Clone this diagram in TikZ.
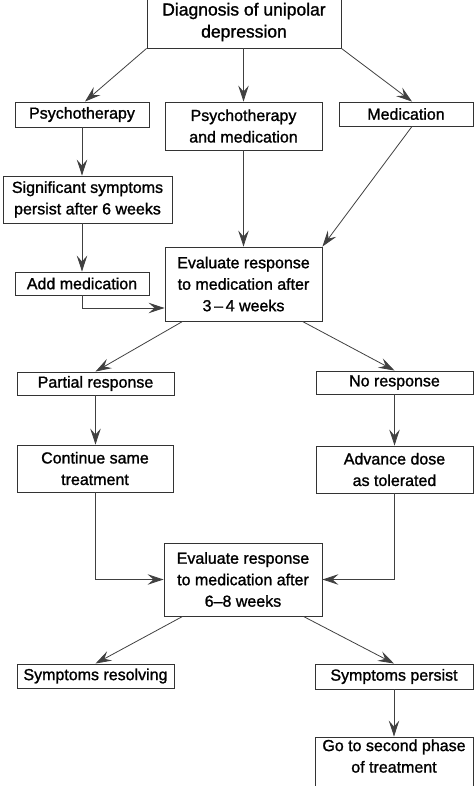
\documentclass[tikz,border=0pt]{standalone}
\usepackage{fontspec}
\setmainfont[BoldFont=Liberation Sans, BoldFeatures={FakeBold=1.3}]{Liberation Sans}
\usetikzlibrary{arrows.meta,calc}
\tikzset{
  box/.style={draw=black!80, line width=0.9pt, inner sep=0pt, align=center,
    font=\fontsize{16}{21.5}\selectfont\bfseries, text=black},
  big/.style={font=\fontsize{17.5}{22}\selectfont\bfseries},
  conn/.style={draw=black!75, line width=0.8pt, -{Stealth[length=16pt,width=10.5pt,inset=6pt]}}
}
\begin{document}
\begin{tikzpicture}[x=1pt,y=1pt]
\useasboundingbox (0,0) rectangle (474,-786);
\node[box,big,minimum width=194,minimum height=52] (diag) at (244,-22) {Diagnosis of unipolar\\depression};
\node[box,minimum width=134,minimum height=25] (psy) at (82,-114.5) {Psychotherapy};
\node[box,minimum width=157,minimum height=48] (psymed) at (243.5,-126) {Psychotherapy\\and medication};
\node[box,minimum width=134,minimum height=24] (med) at (406,-114) {Medication};
\node[box,minimum width=169,minimum height=47] (sig) at (87.5,-199.5) {Significant symptoms\\persist after 6 weeks};
\node[box,minimum width=134,minimum height=23] (add) at (82,-283.5) {Add medication};
\node[box,minimum width=157,minimum height=74] (evalA) at (243.5,-284) {Evaluate response\\to medication after\\3\,--\,4 weeks};
\node[box,minimum width=157,minimum height=23] (partial) at (95.5,-383.5) {Partial response};
\node[box,minimum width=157,minimum height=23] (nores) at (394.5,-382.5) {No response};
\node[box,minimum width=156,minimum height=47] (cont) at (95,-468.5) {Continue same\\treatment};
\node[box,minimum width=157,minimum height=47] (adv) at (394.5,-469.5) {Advance dose\\as tolerated};
\node[box,minimum width=158,minimum height=73] (evalB) at (243,-579.5) {Evaluate response\\to medication after\\6--8 weeks};
\node[box,minimum width=157,minimum height=24] (resolv) at (95.5,-676) {Symptoms resolving};
\node[box,minimum width=158,minimum height=25] (persist) at (394,-676.5) {Symptoms persist};
\node[box,minimum width=158,minimum height=66] (goto) at (394,-770) {Go to second phase\\of treatment\\\strut};

\draw[conn] (diag.south west) -- ($(psy.north)+(3,0)$);
\draw[conn] (diag.south -| psymed.north) -- (psymed.north);
\draw[conn] (diag.south east) -- ($(med.north)+(6,0)$);
\draw[conn] (psy.south) -- (psy.south |- sig.north);
\draw[conn] (add.north |- sig.south) -- (add.north);
\draw[conn] (psymed.south) -- (evalA.north);
\draw[conn] ($(med.south)+(6,0)$) -- (evalA.north east);
\draw[conn] (add.south) |- ($(evalA.west)+(0,-24)$);
\draw[conn] ($(evalA.south west)+(18,0)$) -- (partial.north);
\draw[conn] ($(evalA.south east)+(-20,0)$) -- (nores.north);
\draw[conn] (partial.south) -- (partial.south |- cont.north);
\draw[conn] (nores.south) -- (nores.south |- adv.north);
\draw[conn] (cont.south) |- (evalB.west);
\draw[conn] (adv.south) |- (evalB.east);
\draw[conn] ($(evalB.south west)+(19,0)$) -- (resolv.north);
\draw[conn] ($(evalB.south east)+(-19,0)$) -- (persist.north);
\draw[conn] (persist.south) -- (goto.north);
\end{tikzpicture}
\end{document}
